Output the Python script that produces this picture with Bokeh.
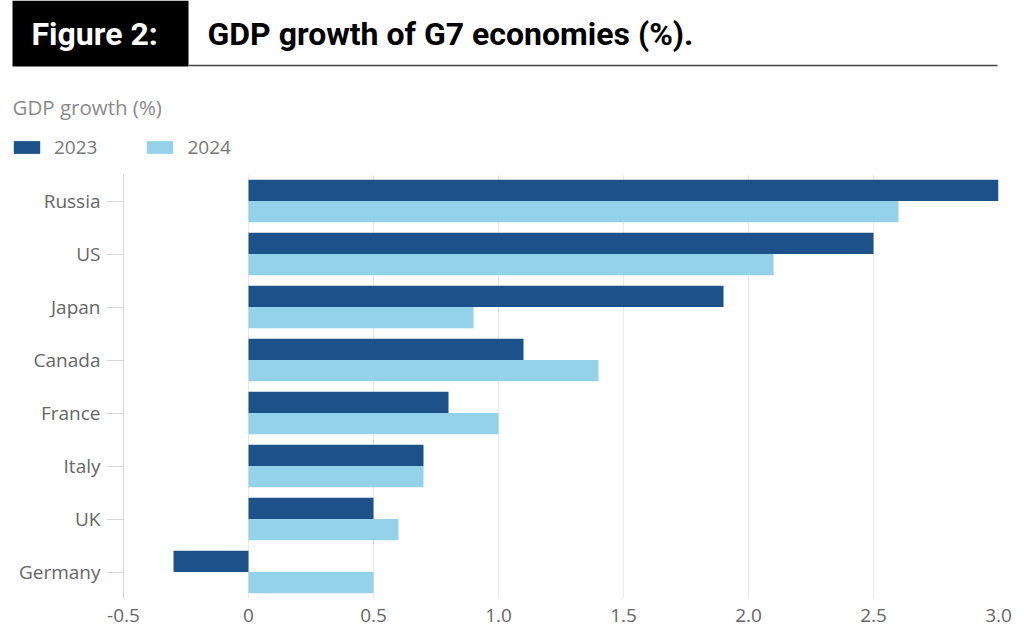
from bokeh.plotting import figure
from bokeh.layouts import column
from bokeh.models import (FactorRange, Range1d, ColumnDataSource, FixedTicker,
                          Legend, LegendItem)
from bokeh.transform import dodge
from bokeh.core.properties import value
from bokeh.embed import file_html
from bokeh.resources import INLINE

# ---------------- data ----------------
countries = ["Russia", "US", "Japan", "Canada", "France", "Italy", "UK", "Germany"]
growth_2023 = [3.0, 2.5, 1.9, 1.1, 0.8, 0.7, 0.5, -0.3]
growth_2024 = [2.6, 2.1, 0.9, 1.4, 1.0, 0.7, 0.6, 0.5]
series_names = ["2023", "2024"]
x_ticks = [-0.5, 0, 0.5, 1.0, 1.5, 2.0, 2.5, 3.0]
x_tick_labels = ["-0.5", "0", "0.5", "1.0", "1.5", "2.0", "2.5", "3.0"]
fig_label = "Figure 2:"
title_text = "GDP growth of G7 economies (%)."
axis_title = "GDP growth (%)"

C23 = "#1d5189"
C24 = "#94d2e9"
LABEL_FONT = "Open Sans"
TITLE_FONT = "Roboto"

W = 1024
HEAD_H = 160
MAIN_H = 631 - HEAD_H

# ---------------- header (pixel coordinates, y downwards) ----------------
h = figure(width=W, height=HEAD_H, x_range=Range1d(0, W), y_range=Range1d(HEAD_H, 0),
           output_backend="svg", toolbar_location=None,
           x_axis_location=None, y_axis_location=None,
           min_border=0, min_border_left=0, min_border_right=0,
           min_border_top=0, min_border_bottom=0)
h.grid.visible = False
h.outline_line_color = None
h.background_fill_color = "white"
h.border_fill_color = "white"

h.quad(left=[12], right=[188], top=[0], bottom=[66], fill_color="black", line_color=None)
h.text(x=[31], y=[33], text=[fig_label], text_font=value(TITLE_FONT),
       text_font_style="bold", text_font_size="32px", text_color="white",
       text_baseline="middle", text_align="left")
h.text(x=[207], y=[33], text=[title_text], text_font=value(TITLE_FONT),
       text_font_style="bold", text_font_size="32px", text_color="black",
       text_baseline="middle", text_align="left")
h.segment(x0=[188], y0=[65], x1=[997], y1=[65], line_color="#444444", line_width=1.5)
h.text(x=[12], y=[106], text=[axis_title], text_font=value(LABEL_FONT),
       text_font_size="20.5px", text_color="#8a8a8a",
       text_baseline="middle", text_align="left")

# legend swatch renderers (hidden; they only provide the legend glyphs)
k23 = h.hbar(y=[0], right=[0], height=0, fill_color=C23, line_color=None, visible=False)
k24 = h.hbar(y=[0], right=[0], height=0, fill_color=C24, line_color=None, visible=False)
legend = Legend(items=[LegendItem(label=series_names[0], renderers=[k23]),
                       LegendItem(label=series_names[1], renderers=[k24])],
                location=(10, 0), orientation="horizontal",
                margin=0, padding=0, spacing=46, label_standoff=11,
                glyph_width=33, glyph_height=16,
                label_text_font=LABEL_FONT, label_text_font_size="19px",
                label_text_color="#777777",
                background_fill_alpha=0, border_line_color=None)
h.add_layout(legend, "center")

# ---------------- main chart ----------------
src = ColumnDataSource(dict(country=countries, y2023=growth_2023, y2024=growth_2024))

p = figure(width=W, height=MAIN_H,
           y_range=FactorRange(factors=countries[::-1], range_padding=0),
           x_range=Range1d(x_ticks[0], x_ticks[-1]),
           output_backend="svg", toolbar_location=None,
           min_border_left=123, min_border_right=26,
           min_border_top=14, min_border_bottom=33)
p.outline_line_color = None
p.background_fill_color = "white"
p.border_fill_color = "white"

p.hbar(y=dodge("country", 0.2, range=p.y_range), right="y2023", height=0.4,
       fill_color=C23, line_color=None, source=src)
p.hbar(y=dodge("country", -0.2, range=p.y_range), right="y2024", height=0.4,
       fill_color=C24, line_color=None, source=src)

p.xaxis.ticker = FixedTicker(ticks=x_ticks)
p.xaxis.major_label_overrides = {t: l for t, l in zip(x_ticks, x_tick_labels)}
p.xaxis.axis_line_color = None
p.xaxis.major_tick_line_color = None
p.xaxis.minor_tick_line_color = None
p.xaxis.major_label_standoff = 4
p.xaxis.major_label_text_font = LABEL_FONT
p.xaxis.major_label_text_font_size = "19px"
p.xaxis.major_label_text_color = "#666666"

p.yaxis.axis_line_color = "#d6d6d6"
p.yaxis.major_tick_line_color = "#d6d6d6"
p.yaxis.major_tick_out = 17
p.yaxis.major_tick_in = 0
p.yaxis.major_label_standoff = 6
p.yaxis.major_label_text_font = LABEL_FONT
p.yaxis.major_label_text_font_size = "19px"
p.yaxis.major_label_text_color = "#666666"

p.xgrid.ticker = FixedTicker(ticks=x_ticks[1:])
p.xgrid.grid_line_color = "#e9e9e9"
p.xgrid.grid_line_width = 1
p.ygrid.visible = False

try:
    h.frame_align = False
    p.frame_align = False
    out = column(h, p, spacing=0)
except AttributeError:
    out = [h, p]

open("out.html", "w").write(file_html(out, INLINE))
